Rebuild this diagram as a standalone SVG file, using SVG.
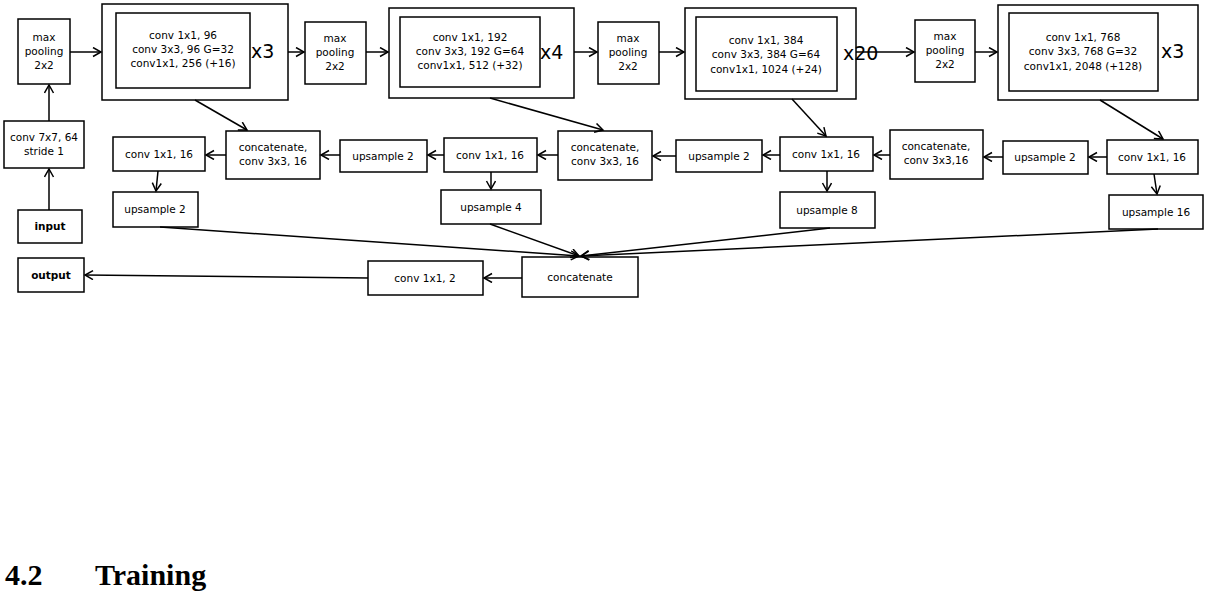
<svg xmlns="http://www.w3.org/2000/svg" width="1207" height="591" viewBox="0 0 1207 591">
<style>
rect{fill:#fff;stroke:#000;stroke-width:1.5}
text{font-family:"DejaVu Sans",sans-serif;font-size:10.5px;text-anchor:middle;fill:#000}
.big{font-size:19px;text-anchor:start}
.b{font-weight:bold}
.c path{fill:none;stroke:#000;stroke-width:1.5;marker-end:url(#a)}
</style>
<defs><marker id="a" markerWidth="12" markerHeight="12" refX="9" refY="5" orient="auto" markerUnits="userSpaceOnUse"><path d="M1,0.5 L9,5 L1,9.5" fill="none" stroke="#000" stroke-width="1.5"/></marker></defs>
<rect x="0" y="0" width="1207" height="591" style="stroke:none"/>
<g id="mp1"><rect x="18" y="19" width="52" height="65"/><text x="44" y="41">max</text><text x="44" y="55">pooling</text><text x="44" y="69">2x2</text></g>
<g id="b1"><rect x="102" y="4" width="186" height="96"/><rect x="116" y="13" width="134" height="75"/><text x="183" y="39">conv 1x1, 96</text><text x="183" y="53">conv 3x3, 96 G=32</text><text x="183" y="67">conv1x1, 256 (+16)</text><text class="big" x="251" y="58">x3</text></g>
<g id="mp2"><rect x="305" y="22" width="61" height="62"/><text x="335" y="42">max</text><text x="335" y="56">pooling</text><text x="335" y="70">2x2</text></g>
<g id="b2"><rect x="389" y="8" width="185" height="90"/><rect x="400" y="17" width="140" height="70"/><text x="470" y="41">conv 1x1, 192</text><text x="470" y="55">conv 3x3, 192 G=64</text><text x="470" y="69">conv1x1, 512 (+32)</text><text class="big" x="540" y="59">x4</text></g>
<g id="mp3"><rect x="598" y="22" width="61" height="62"/><text x="628" y="42">max</text><text x="628" y="56">pooling</text><text x="628" y="70">2x2</text></g>
<g id="b3"><rect x="685" y="8" width="171" height="91"/><rect x="696" y="17" width="141" height="74"/><text x="766" y="44">conv 1x1, 384</text><text x="766" y="58">conv 3x3, 384 G=64</text><text x="766" y="73">conv1x1, 1024 (+24)</text><text class="big" x="843" y="60">x20</text></g>
<g id="mp4"><rect x="915" y="20" width="60" height="62"/><text x="945" y="40">max</text><text x="945" y="54">pooling</text><text x="945" y="68">2x2</text></g>
<g id="b4"><rect x="998" y="5" width="200" height="95"/><rect x="1009" y="13" width="149" height="78"/><text x="1083" y="41">conv 1x1, 768</text><text x="1083" y="55">conv 3x3, 768 G=32</text><text x="1083" y="70">conv1x1, 2048 (+128)</text><text class="big" x="1161" y="58">x3</text></g>
<g id="c77"><rect x="4" y="121" width="80" height="47"/><text x="44" y="141">conv 7x7, 64</text><text x="44" y="155">stride 1</text></g>
<g id="in"><rect x="18" y="210" width="64" height="33"/><text class="b" x="50" y="230">input</text></g>
<g id="out"><rect x="18" y="258" width="66" height="34"/><text class="b" x="51" y="279">output</text></g>
<g id="cA"><rect x="113" y="137" width="92" height="34"/><text x="159" y="158">conv 1x1, 16</text></g>
<g id="ccA"><rect x="226" y="131" width="94" height="48"/><text x="273" y="151">concatenate,</text><text x="273" y="165">conv 3x3, 16</text></g>
<g id="uA"><rect x="340" y="140" width="87" height="32"/><text x="383" y="160">upsample 2</text></g>
<g id="cB"><rect x="444" y="138" width="93" height="34"/><text x="490" y="159">conv 1x1, 16</text></g>
<g id="ccB"><rect x="558" y="131" width="94" height="49"/><text x="605" y="151">concatenate,</text><text x="605" y="165">conv 3x3, 16</text></g>
<g id="uB"><rect x="676" y="140" width="86" height="32"/><text x="719" y="160">upsample 2</text></g>
<g id="cC"><rect x="780" y="137" width="93" height="34"/><text x="826" y="158">conv 1x1, 16</text></g>
<g id="ccC"><rect x="890" y="130" width="93" height="49"/><text x="936" y="150">concatenate,</text><text x="936" y="164">conv 3x3,16</text></g>
<g id="uC"><rect x="1003" y="141" width="85" height="33"/><text x="1045" y="161">upsample 2</text></g>
<g id="cD"><rect x="1107" y="140" width="91" height="34"/><text x="1152" y="161">conv 1x1, 16</text></g>
<g id="u2"><rect x="113" y="192" width="85" height="35"/><text x="155" y="213">upsample 2</text></g>
<g id="u4"><rect x="441" y="190" width="100" height="34"/><text x="491" y="211">upsample 4</text></g>
<g id="u8"><rect x="780" y="192" width="95" height="36"/><text x="827" y="214">upsample 8</text></g>
<g id="u16"><rect x="1109" y="195" width="94" height="34"/><text x="1156" y="216">upsample 16</text></g>
<g id="cat"><rect x="522" y="257" width="116" height="40"/><text x="580" y="281">concatenate</text></g>
<g id="c2"><rect x="368" y="261" width="115" height="34"/><text x="425" y="282">conv 1x1, 2</text></g>
<g class="c">
<path d="M49,210 L49,169"/><path d="M49,121 L49,85"/>
<path d="M70,52 L101,52"/><path d="M288,52 L304,52"/><path d="M366,52 L388,52"/><path d="M574,52 L597,52"/><path d="M659,52 L684,52"/><path d="M856,52 L914,52"/><path d="M975,52 L997,52"/>
<path d="M195,100 L247,130"/><path d="M490,98 L603,130"/><path d="M792,99 L826,136"/><path d="M1100,100 L1163,139"/>
<path d="M1107,157 L1089,157"/><path d="M1003,157 L984,157"/><path d="M890,155 L874,155"/><path d="M780,155 L763,155"/><path d="M676,156 L653,156"/><path d="M558,155 L538,155"/><path d="M444,155 L428,155"/><path d="M340,155 L321,155"/><path d="M226,155 L206,155"/>
<path d="M158,171 L156,191"/><path d="M491,172 L491,189"/><path d="M827,171 L827,191"/><path d="M1154,174 L1157,194"/>
<path d="M160,227 L579,256"/><path d="M490,224 L579,256"/><path d="M830,228 L581,256"/><path d="M1158,229 L581,256"/>
<path d="M522,278 L484,278"/><path d="M368,278 L85,275"/>
</g>
<text class="b" x="5" y="585" style="font-family:'Liberation Serif',serif;font-size:30px;text-anchor:start">4.2</text>
<text class="b" x="95" y="585" style="font-family:'Liberation Serif',serif;font-size:30px;text-anchor:start">Training</text>
</svg>
